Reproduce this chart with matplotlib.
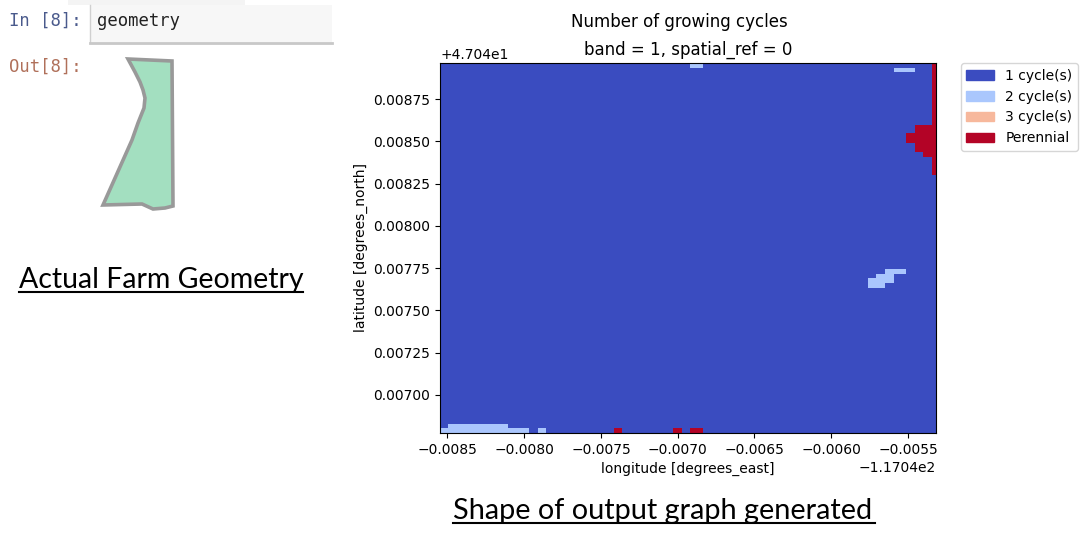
import numpy as np
import matplotlib
matplotlib.use('Agg')
import matplotlib.pyplot as plt
from matplotlib.patches import Patch, Polygon, Rectangle

# longitude / latitude are stored relative to these two bases
lon_base = -117.04
lat_base = 47.04
lon_limits = (-0.008548, -0.005318)
lat_limits = (0.006775, 0.008963)

labels = ['1 cycle(s)', '2 cycle(s)', '3 cycle(s)', 'Perennial']

# patches that are not "1 cycle": lon_start, lon_end, lat_start, lat_end
two_cycle_patches = [
    (-0.006920, -0.006835, 0.008933, 0.008963),
    (-0.005592, -0.005455, 0.008909, 0.008933),
    (-0.005761, -0.005650, 0.007632, 0.007691),
    (-0.005703, -0.005592, 0.007662, 0.007715),
    (-0.005650, -0.005514, 0.007715, 0.007745),
    (-0.008548, -0.007968, 0.006775, 0.006805),
    (-0.008495, -0.008105, 0.006775, 0.006829),
    (-0.007910, -0.007857, 0.006775, 0.006805),
]
perennial_patches = [
    (-0.005345, -0.005318, 0.008300, 0.008963),
    (-0.005401, -0.005345, 0.008408, 0.008600),
    (-0.005455, -0.005401, 0.008438, 0.008600),
    (-0.005514, -0.005455, 0.008488, 0.008550),
    (-0.007415, -0.007363, 0.006775, 0.006805),
    (-0.007031, -0.006972, 0.006775, 0.006805),
    (-0.006920, -0.006835, 0.006775, 0.006805),
]

# outline of the farm in the notebook screenshot, image pixels
farm_x = [128, 172, 173, 165, 153, 142, 103, 132, 138, 144, 145, 143, 140, 135]
farm_y = [59, 61, 206, 208, 209, 204, 205, 140, 123, 108, 98, 90, 82, 72]


def fill_grid(lon_centers, lat_centers):
    grid = np.ones((len(lat_centers), len(lon_centers)))
    for value, patches in [(2, two_cycle_patches), (4, perennial_patches)]:
        for lon0, lon1, lat0, lat1 in patches:
            in_lon = (lon_centers >= lon0) & (lon_centers < lon1)
            in_lat = (lat_centers >= lat0) & (lat_centers < lat1)
            grid[np.ix_(in_lat, in_lon)] = value
    return grid


fig = plt.figure(figsize=(10.88, 5.47), dpi=100)

# left part and captions are drawn in image pixels
page = fig.add_axes([0, 0, 1, 1])
page.set_xlim(0, 1088)
page.set_ylim(547, 0)
page.axis('off')

page.add_patch(Rectangle((68, 0), 177, 5, fc='#f4f4f4', ec='none'))
page.add_patch(Rectangle((90, 5), 242, 37, fc='#f7f7f7', ec='none'))
page.plot([90, 90], [5, 42], color='#d0d0d0', lw=1)
page.plot([90, 332], [42.5, 42.5], color='#c8c8c8', lw=2)

page.text(9, 21, 'In [8]:', family='DejaVu Sans Mono', fontsize=12.4, color='#4a5a8c', va='center')
page.text(97, 21, 'geometry', family='DejaVu Sans Mono', fontsize=12.4, color='#222222', va='center')
page.text(9, 67, 'Out[8]:', family='DejaVu Sans Mono', fontsize=12.4, color='#b0705a', va='center')

page.add_patch(Polygon(np.column_stack([farm_x, farm_y]), closed=True, fc='#a3dfc0', ec='#999999', lw=2.6))

page.text(19, 288, 'Actual Farm Geometry', family='Lato', fontsize=20.5, color='black')
page.plot([19, 303], [292, 292], color='black', lw=1.5)
page.text(453, 519, 'Shape of output graph generated', family='Lato', fontsize=20.8, color='black')
page.plot([453, 875], [523, 523], color='black', lw=1.5)

fig.text(679 / 1088, 1 - 22 / 547, 'Number of growing cycles', ha='center', va='center', fontsize=12)

# main map
ax = fig.add_axes([440 / 1088, 1 - 433 / 547, 496 / 1088, 370 / 547])

lon_centers = np.linspace(lon_limits[0], lon_limits[1], 1000)
lat_centers = np.linspace(lat_limits[0], lat_limits[1], 800)
grid = fill_grid(lon_centers, lat_centers)

cmap = plt.get_cmap('coolwarm', 4)
ax.imshow(grid, origin='lower', aspect='auto', interpolation='nearest', cmap=cmap, vmin=0.5, vmax=4.5,
          extent=(lon_base + lon_limits[0], lon_base + lon_limits[1],
                  lat_base + lat_limits[0], lat_base + lat_limits[1]))

ax.set_xticks([lon_base + v for v in [-0.0085, -0.0080, -0.0075, -0.0070, -0.0065, -0.0060, -0.0055]])
ax.set_yticks([lat_base + v for v in [0.00700, 0.00725, 0.00750, 0.00775, 0.00800, 0.00825, 0.00850, 0.00875]])
ax.set_xlabel('longitude [degrees_east]')
ax.set_ylabel('latitude [degrees_north]')
ax.set_title('band = 1, spatial_ref = 0', fontsize=12)

handles = [Patch(color=cmap(i), label=label) for i, label in enumerate(labels)]
ax.legend(handles=handles, loc='upper left', bbox_to_anchor=(1.05, 1), borderaxespad=0)

fig.savefig('out.png', dpi=100)
